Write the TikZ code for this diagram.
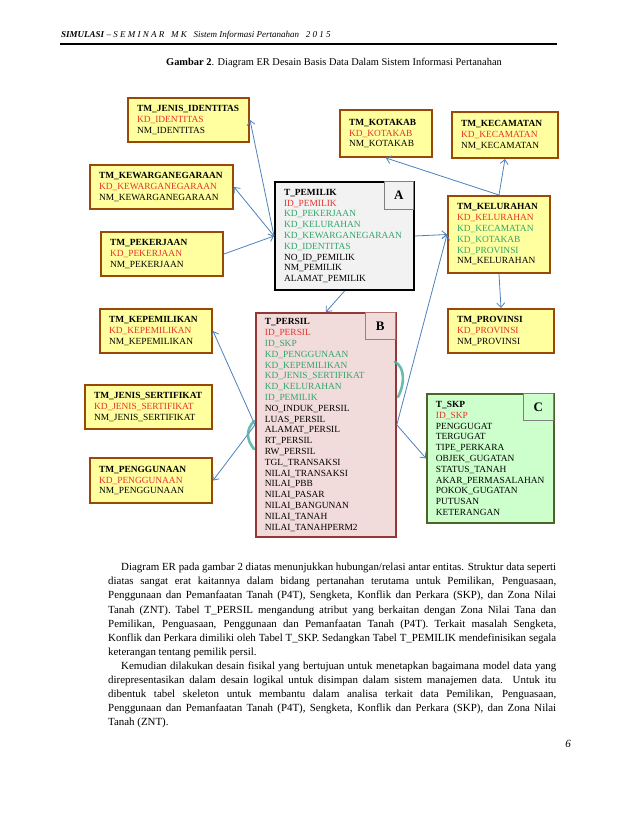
\documentclass[tikz,border=0pt]{standalone}
\usepackage{fontspec}
\setmainfont{Liberation Serif}
\usetikzlibrary{arrows.meta}
\definecolor{yfill}{RGB}{255,255,160}
\definecolor{ybrd}{RGB}{152,72,7}
\definecolor{gfill}{RGB}{242,242,242}
\definecolor{pfill}{RGB}{242,220,219}
\definecolor{pbrd}{RGB}{149,55,53}
\definecolor{sfill}{RGB}{204,255,204}
\definecolor{sbrd}{RGB}{79,98,40}
\definecolor{kdred}{RGB}{228,50,40}
\definecolor{fkgreen}{RGB}{46,165,105}
\definecolor{conncol}{RGB}{79,129,189}
\definecolor{tealmark}{RGB}{80,175,165}
\newcommand{\entfont}{\fontsize{9.4}{10.8}\selectfont}
\newcommand{\kd}[1]{\textcolor{kdred}{#1}}
\newcommand{\fk}[1]{\textcolor{fkgreen}{#1}}
\begin{document}
\begin{tikzpicture}[x=1pt,y=-1pt,
  ent/.style={anchor=north west, inner xsep=9pt, inner ysep=0pt, align=left, font=\entfont, text=black},
  ybox/.style={ent, draw=ybrd, fill=yfill, line width=2pt},
  gbox/.style={ent, draw=black, fill=gfill, line width=2pt},
  pbox/.style={ent, draw=pbrd, fill=pfill, line width=1.8pt},
  sbox/.style={ent, draw=sbrd, fill=sfill, line width=1.8pt},
  lbl/.style={anchor=north west, inner sep=0pt, font=\fontsize{13}{13}\selectfont\bfseries, line width=0.6pt},
  conn/.style={draw=conncol, line width=0.8pt, -{Straight Barb[length=4.5pt,width=8pt]}},
  tealstroke/.style={draw=tealmark, line width=2.6pt, line cap=round, opacity=0.85}
]
\useasboundingbox (0,0) rectangle (638,826);
\fill[white] (0,0) rectangle (638,826);

% header
\node[anchor=base west, inner sep=0pt, font=\fontsize{9.0}{11}\selectfont] (hdr) at (61,38)
  {\textbf{\textit{SIMULASI}} \textit{– S E M I N A R ~ M K ~ Sistem Informasi Pertanahan ~ 2 0 1 5}};
\coordinate (rl) at (60,44);
\coordinate (rr) at (557,44);
\draw[line width=2pt] (rl) -- (rr);
\node[anchor=base, inner sep=0pt, font=\fontsize{10.4}{12}\selectfont] (cap) at (334,66)
  {\textbf{Gambar 2}. Diagram ER Desain Basis Data Dalam Sistem Informasi Pertanahan};

% entities
\node[ybox, minimum width=121pt, text width=103pt, minimum height=44pt] (jid) at (127,97)
  {\textbf{TM\_JENIS\_IDENTITAS}\\\kd{KD\_IDENTITAS}\\NM\_IDENTITAS};
\node[ybox, minimum width=143pt, text width=125pt, minimum height=44pt] (kwn) at (89,164)
  {\textbf{TM\_KEWARGANEGARAAN}\\\kd{KD\_KEWARGANEGARAAN}\\NM\_KEWARGANEGARAAN};
\node[ybox, minimum width=122pt, text width=104pt, minimum height=44pt] (pkj) at (100,231)
  {\textbf{TM\_PEKERJAAN}\\\kd{KD\_PEKERJAAN}\\NM\_PEKERJAAN};
\node[gbox, minimum width=139pt, text width=121pt, minimum height=108pt] (pemilik) at (274,181)
  {\textbf{T\_PEMILIK}\\\kd{ID\_PEMILIK}\\\fk{KD\_PEKERJAAN}\\\fk{KD\_KELURAHAN}\\\fk{KD\_KEWARGANEGARAAN}\\\fk{KD\_IDENTITAS}\\NO\_ID\_PEMILIK\\NM\_PEMILIK\\ALAMAT\_PEMILIK};
\node[lbl, draw=gray, fill=gfill, minimum width=29pt, minimum height=28pt] (la) at (384,181) {A};
\node[ybox, minimum width=92pt, text width=74pt, minimum height=47pt] (kotakab) at (339,109)
  {\textbf{TM\_KOTAKAB}\\\kd{KD\_KOTAKAB}\\NM\_KOTAKAB};
\node[ybox, minimum width=106pt, text width=88pt, minimum height=46pt] (kecamatan) at (451,111)
  {\textbf{TM\_KECAMATAN}\\\kd{KD\_KECAMATAN}\\NM\_KECAMATAN};
\node[ybox, minimum width=102pt, text width=84pt, minimum height=77pt] (kelurahan) at (447,195)
  {\textbf{TM\_KELURAHAN}\\\kd{KD\_KELURAHAN}\\\fk{KD\_KECAMATAN}\\\fk{KD\_KOTAKAB}\\\fk{KD\_PROVINSI}\\NM\_KELURAHAN};
\node[ybox, minimum width=112pt, text width=94pt, minimum height=44pt] (kepemilikan) at (99,308)
  {\textbf{TM\_KEPEMILIKAN}\\\kd{KD\_KEPEMILIKAN}\\NM\_KEPEMILIKAN};
\node[ybox, minimum width=127pt, text width=109pt, minimum height=44pt] (jsert) at (84,384)
  {\textbf{TM\_JENIS\_SERTIFIKAT}\\\kd{KD\_JENIS\_SERTIFIKAT}\\NM\_JENIS\_SERTIFIKAT};
\node[ybox, minimum width=122pt, text width=104pt, minimum height=45pt] (penggunaan) at (89,457)
  {\textbf{TM\_PENGGUNAAN}\\\kd{KD\_PENGGUNAAN}\\NM\_PENGGUNAAN};
\node[pbox, minimum width=140pt, text width=122pt, minimum height=224pt] (persil) at (255,312)
  {\textbf{T\_PERSIL}\\\kd{ID\_PERSIL}\\\fk{ID\_SKP}\\\fk{KD\_PENGGUNAAN}\\\fk{KD\_KEPEMILIKAN}\\\fk{KD\_JENIS\_SERTIFIKAT}\\\fk{KD\_KELURAHAN}\\\fk{ID\_PEMILIK}\\NO\_INDUK\_PERSIL\\LUAS\_PERSIL\\ALAMAT\_PERSIL\\RT\_PERSIL\\RW\_PERSIL\\TGL\_TRANSAKSI\\NILAI\_TRANSAKSI\\NILAI\_PBB\\NILAI\_PASAR\\NILAI\_BANGUNAN\\NILAI\_TANAH\\NILAI\_TANAHPERM2};
\node[lbl, draw=pbrd!70, fill=pfill, minimum width=30pt, minimum height=27pt] (lb) at (365,312) {B};
\node[ybox, minimum width=106pt, text width=88pt, minimum height=44pt] (provinsi) at (447,308)
  {\textbf{TM\_PROVINSI}\\\kd{KD\_PROVINSI}\\NM\_PROVINSI};
\node[sbox, minimum width=127pt, text width=109pt, minimum height=129pt] (skp) at (426,393)
  {\textbf{T\_SKP}\\\kd{ID\_SKP}\\PENGGUGAT\\TERGUGAT\\TIPE\_PERKARA\\OBJEK\_GUGATAN\\STATUS\_TANAH\\AKAR\_PERMASALAHAN\\POKOK\_GUGATAN\\PUTUSAN\\KETERANGAN};
\node[lbl, draw=gray, fill=sfill, minimum width=30pt, minimum height=27pt] (lc) at (523,393) {C};

% connectors
\draw[conn] (pemilik.west) -- (jid.east);
\draw[conn] (pemilik.west) -- (kwn.east);
\draw[conn] (pkj.east) -- (pemilik.west);
\draw[conn] (pemilik.east) -- (kelurahan.west);
\draw[conn] (kelurahan.north) -- (kotakab.south);
\draw[conn] (kelurahan.north) -- (kecamatan.south);
\draw[conn] (kelurahan.south) -- (provinsi.north);
\draw[conn] (persil.east) -- (kelurahan.west);
\draw[conn] (pemilik.south) -- (persil.north);
\draw[conn] (persil.west) -- (kepemilikan.east);
\draw[conn] (persil.west) -- (penggunaan.east);
\draw[conn] (persil.east) -- (skp.west);

% teal marks
\draw[tealstroke] (395,362) .. controls (405,367) and (405,384) .. (398,397);
\draw[tealstroke] (254,421) .. controls (246,430) and (246,439) .. (254,449);

% body text
\node[anchor=north west, inner sep=0pt, text width=448pt, align=justify,
      font=\fontsize{10.9}{14.1}\selectfont] (para) at (108,563)
{\tolerance=10000\hyphenpenalty=10000
\hspace*{13pt}Diagram ER pada gambar 2 diatas menunjukkan hubungan/relasi antar entitas. Struktur data seperti\linebreak
diatas sangat erat kaitannya dalam bidang pertanahan terutama untuk Pemilikan, Penguasaan,\linebreak
Penggunaan dan Pemanfaatan Tanah (P4T), Sengketa, Konflik dan Perkara (SKP), dan Zona Nilai\linebreak
Tanah (ZNT). Tabel T\_PERSIL mengandung atribut yang berkaitan dengan Zona Nilai Tana dan\linebreak
Pemilikan, Penguasaan, Penggunaan dan Pemanfaatan Tanah (P4T). Terkait masalah Sengketa,\linebreak
Konflik dan Perkara dimiliki oleh Tabel T\_SKP. Sedangkan Tabel T\_PEMILIK mendefinisikan segala\linebreak
keterangan tentang pemilik persil.\par
\hspace*{13pt}Kemudian dilakukan desain fisikal yang bertujuan untuk menetapkan bagaimana model data yang\linebreak
direpresentasikan dalam desain logikal untuk disimpan dalam sistem manajemen data. Untuk itu\linebreak
dibentuk tabel skeleton untuk membantu dalam analisa terkait data Pemilikan, Penguasaan,\linebreak
Penggunaan dan Pemanfaatan Tanah (P4T), Sengketa, Konflik dan Perkara (SKP), dan Zona Nilai\linebreak
Tanah (ZNT).\par};
\node[anchor=base, inner sep=0pt, font=\fontsize{11}{13}\selectfont\itshape] (pg) at (568,747) {6};
\end{tikzpicture}
\end{document}
